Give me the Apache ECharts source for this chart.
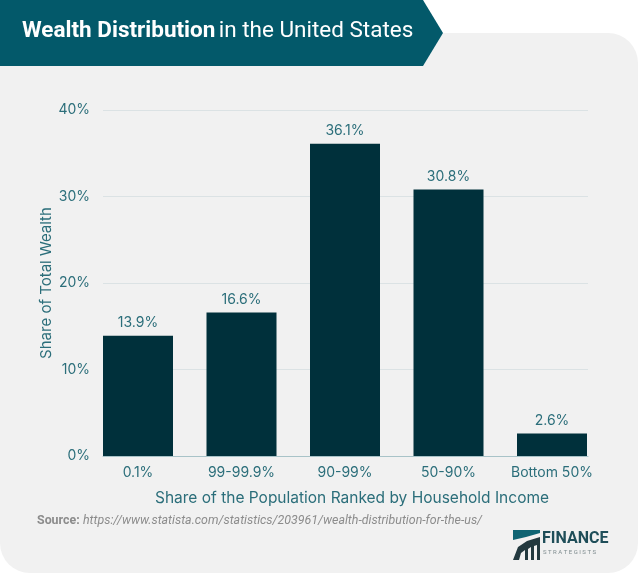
<!DOCTYPE html>
<html>
<head>
<meta charset="utf-8">
<script src="https://cdn.jsdelivr.net/npm/echarts@6/dist/echarts.min.js"></script>
<style>
html,body{margin:0;padding:0;background:#ffffff;}
#chart{width:640px;height:574px;}
</style>
</head>
<body>
<div id="chart"></div>
<script>
const categories = ['0.1%', '99-99.9%', '90-99%', '50-90%', 'Bottom 50%'];
const shares = [13.9, 16.6, 36.1, 30.8, 2.6];
const yTicks = [0, 10, 20, 30, 40];

const chart = echarts.init(document.getElementById('chart'), null, {renderer: 'canvas'});
const teal = '#2b6e7a';
const font = 'Inter, Roboto, sans-serif';

chart.setOption({
  backgroundColor: '#ffffff',
  animation: false,
  graphic: [
    {type: 'rect', z: -10, shape: {x: 0, y: 33, width: 638, height: 540, r: 30}, style: {fill: '#f1f1f1'}},
    {type: 'polygon', z: 10, shape: {points: [[0,0],[423,0],[443,33],[423,66],[0,66]]}, style: {fill: '#03596a'}},
    {type: 'text', z: 11, left: 22, top: 20, style: {
      rich: {
        b: {fontFamily: 'Roboto, sans-serif', fontWeight: 'bold', fontSize: 22.5, fill: '#ffffff'},
        r: {fontFamily: 'Roboto, sans-serif', fontWeight: 'normal', fontSize: 22.5, fill: '#ffffff'}
      },
      text: '{b|Wealth Distribution} {r|in the United States}'
    }},
    {type: 'text', z: 11, left: 37, top: 515, style: {
      rich: {
        b: {fontFamily: 'Roboto, sans-serif', fontWeight: 'bold', fontSize: 12.4, fill: '#8c8c8c'},
        i: {fontFamily: 'Roboto, sans-serif', fontStyle: 'italic', fontSize: 12.4, fill: '#8c8c8c'}
      },
      text: '{b|Source:} {i|https://www.statista.com/statistics/203961/wealth-distribution-for-the-us/}'
    }},
    // logo
    {type: 'polygon', z: 11, shape: {points: [[513,530],[540,530],[540,533],[526,537],[513,540]]}, style: {fill: '#0f6473'}},
    {type: 'polygon', z: 11, shape: {points: [[513,560],[518,547],[527,541],[540,537],[540,560],[537,560],[537,545],[534,546],[534,560],[531,560],[531,547],[528,549],[528,560],[525,560],[525,550],[521,553],[519,560]]}, style: {fill: '#23393f'}},
    {type: 'text', z: 11, left: 542, top: 531, style: {text: 'FINANCE', fontFamily: 'Roboto, sans-serif', fontWeight: 'bold', fontSize: 16, fill: '#1f4e59'}},
    {type: 'text', z: 11, left: 543, top: 549, style: {text: 'S T R A T E G I S T S', fontFamily: 'Roboto, sans-serif', fontSize: 6, fill: '#7f8c8f'}}
  ],
  grid: [
    {left: 103, right: 52, top: 110, bottom: 118, containLabel: false},
    {left: 86.25, right: 36.25, top: 110, bottom: 118, containLabel: false}
  ],
  xAxis: [{
    type: 'category',
    gridIndex: 0,
    data: categories,
    axisLine: {show: true, lineStyle: {color: '#a8c3c8', width: 1}},
    axisTick: {show: false},
    axisLabel: {show: false}
  }, {
    type: 'category',
    gridIndex: 1,
    data: categories,
    name: 'Share of the Population Ranked by Household Income',
    nameLocation: 'middle',
    nameGap: 34,
    nameTextStyle: {color: teal, fontSize: 15.5, fontFamily: font, padding: [0, 0, 0, 14]},
    axisLine: {show: false},
    axisTick: {show: false},
    axisLabel: {color: teal, fontSize: 14, fontFamily: font, margin: 10, interval: 0}
  }],
  yAxis: [{
    type: 'value',
    gridIndex: 0,
    min: yTicks[0],
    max: yTicks[yTicks.length - 1],
    interval: 10,
    name: 'Share of Total Wealth',
    nameLocation: 'middle',
    nameGap: 49,
    nameMoveOverlap: false,
    nameRotate: 90,
    nameTextStyle: {color: teal, fontSize: 15, fontFamily: font},
    axisLine: {show: false},
    axisTick: {show: false},
    axisLabel: {color: teal, fontSize: 14, fontFamily: font, margin: 13, formatter: '{value}%'},
    splitLine: {lineStyle: {color: '#dbe2e4', width: 1}}
  }, {
    type: 'value',
    gridIndex: 1,
    min: yTicks[0],
    max: yTicks[yTicks.length - 1],
    interval: 10,
    show: false,
    splitLine: {show: false}
  }],
  series: [{
    type: 'bar',
    xAxisIndex: 1,
    yAxisIndex: 1,
    data: shares,
    barWidth: 70,
    itemStyle: {color: '#00303b'},
    label: {show: true, position: 'top', distance: 6, color: teal, fontSize: 14, fontFamily: font, formatter: p => p.value.toFixed(1) + '%'}
  }]
});
</script>
</body>
</html>
